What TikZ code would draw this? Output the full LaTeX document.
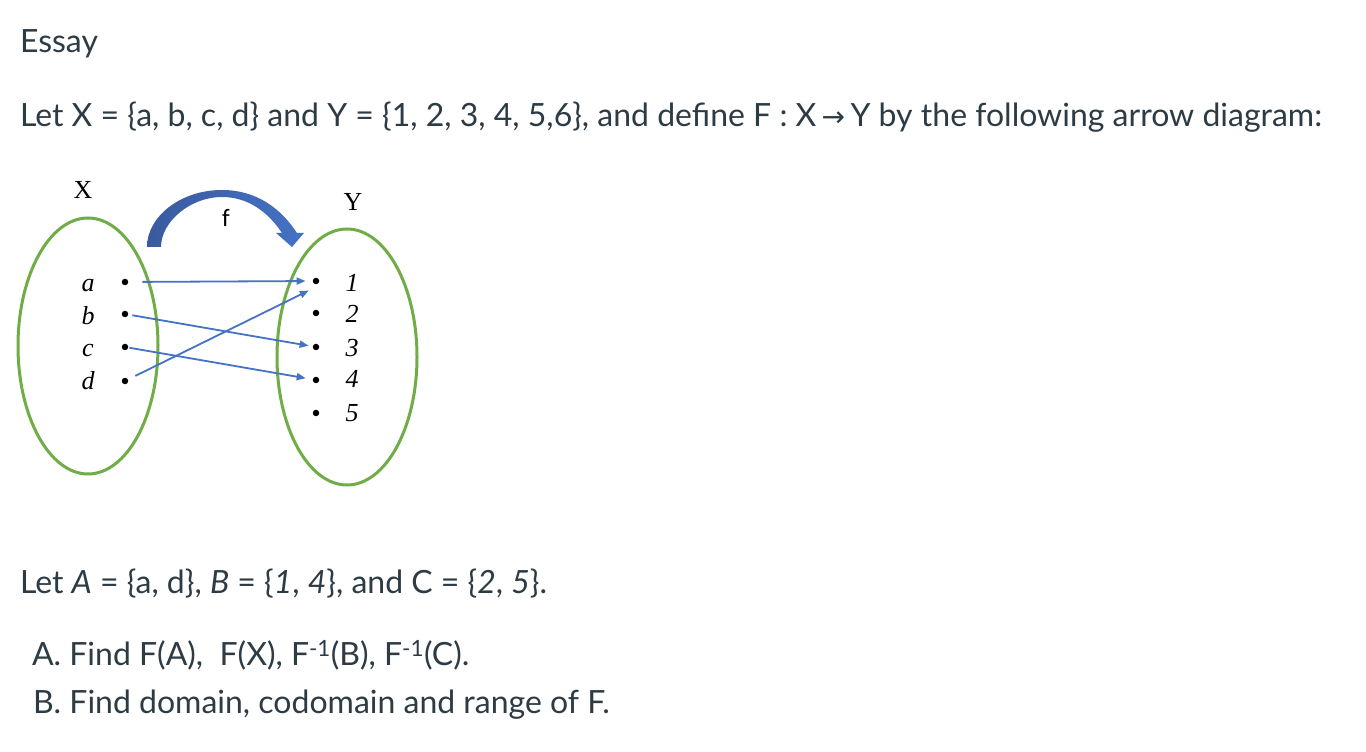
\documentclass[tikz,border=0pt]{standalone}
\usepackage{fontspec}
\setmainfont{Lato}
\newfontfamily\timesfont{Liberation Serif}
\newfontfamily\calfont{Carlito}
\newfontfamily\symfont{DejaVu Sans}
\usetikzlibrary{arrows.meta}
\definecolor{textColor}{HTML}{2D3B45}
\definecolor{setColor}{HTML}{70AD47}
\definecolor{mapColor}{HTML}{4472C4}
\definecolor{mapDark}{HTML}{3A5A9E}
\tikzset{
  line/.style={text=textColor,anchor=base west,inner sep=0pt,outer sep=0pt,font=\fontsize{32}{38}\selectfont},
  setlabel/.style={text=black,inner sep=0pt,font=\timesfont\fontsize{26}{30}\selectfont},
  elem/.style={text=black,anchor=base,inner sep=0pt,font=\timesfont\itshape\fontsize{26}{30}\selectfont},
  dot/.style={circle,fill=black,inner sep=0pt,minimum size=6.5pt},
  map/.style={draw=mapColor,line width=1.8pt,-{Triangle[length=9pt,width=7pt]}},
  setline/.style={draw=setColor,line width=3pt}
}
\begin{document}
\begin{tikzpicture}[x=1pt,y=1pt]
\path[use as bounding box,fill=white] (0,0) rectangle (1366,752);

% question text
\node[line] (title) at (20,699) {Essay};
\node[line] (intro) at (20,625) {Let X = \{a, b, c, d\} and Y = \{1, 2, 3, 4, 5,6\}, and define F : X\,{\symfont\fontsize{28}{32}\selectfont →}\,Y by the following arrow diagram:};

% the two sets
\path[setline] ( 88,406) ellipse (70 and 128);
\path[setline] (347,395) ellipse (70 and 128);
\node[setlabel] (setX) at ( 83,562) {X};
\node[setlabel] (setY) at (353,550) {Y};

% elements of X
\node[elem] (la) at (88,460) {a};
\node[elem] (lb) at (88,427) {b};
\node[elem] (lc) at (88,395) {c};
\node[elem] (ld) at (88,362) {d};
\node[dot] (a) at (125,470) {};
\node[dot] (b) at (125,438) {};
\node[dot] (c) at (125,405) {};
\node[dot] (d) at (125,371) {};

% elements of Y
\node[elem] (l1) at (352,460) {1};
\node[elem] (l2) at (352,429) {2};
\node[elem] (l3) at (352,395) {3};
\node[elem] (l4) at (352,364) {4};
\node[elem] (l5) at (352,330) {5};
\node[dot] (p1) at (316,471) {};
\node[dot] (p2) at (316,439) {};
\node[dot] (p3) at (316,405) {};
\node[dot] (p4) at (316,372) {};
\node[dot] (p5) at (316,339) {};

% the map
\draw[map,shorten <=14pt,shorten >=7pt] (a) -- (p1);
\draw[map,shorten <=4pt,shorten >=4pt] (b) -- (p3);
\draw[map,shorten <=1pt,shorten >=7pt] (c) -- (p4);
\draw[map,shorten <=8pt,shorten >=8pt] (d) -- ([yshift=-6pt]p1.center);

% curved arrow f
\shade[left color=mapDark,right color=mapColor]
  (147,505) -- (161,505)
  .. controls (161,530) and (190,555) .. (222,555)
  .. controls (248,555) and (268,540) .. (282,519)
  -- (276,519) -- (292,505) -- (304,519) -- (297,519)
  .. controls (280,545) and (255,562) .. (222,562)
  .. controls (180,562) and (147,535) .. (147,505) -- cycle;
\node[text=black,inner sep=0pt,font=\calfont\fontsize{25}{28}\selectfont] (f) at (226,534) {f};

% the questions
\node[line] (sets) at (20,158) {Let \textit{A} = \{a, d\}, \textit{B} = \{\textit{1}, \textit{4}\}, and C = \{\textit{2}, \textit{5}\}.};
\node[line] (qa) at (32,86) {A. Find F(A),\ \ F(X), F\textsuperscript{-1}(B), F\textsuperscript{-1}(C).};
\node[line] (qb) at (33,38) {B. Find domain, codomain and range of F.};
\end{tikzpicture}
\end{document}
